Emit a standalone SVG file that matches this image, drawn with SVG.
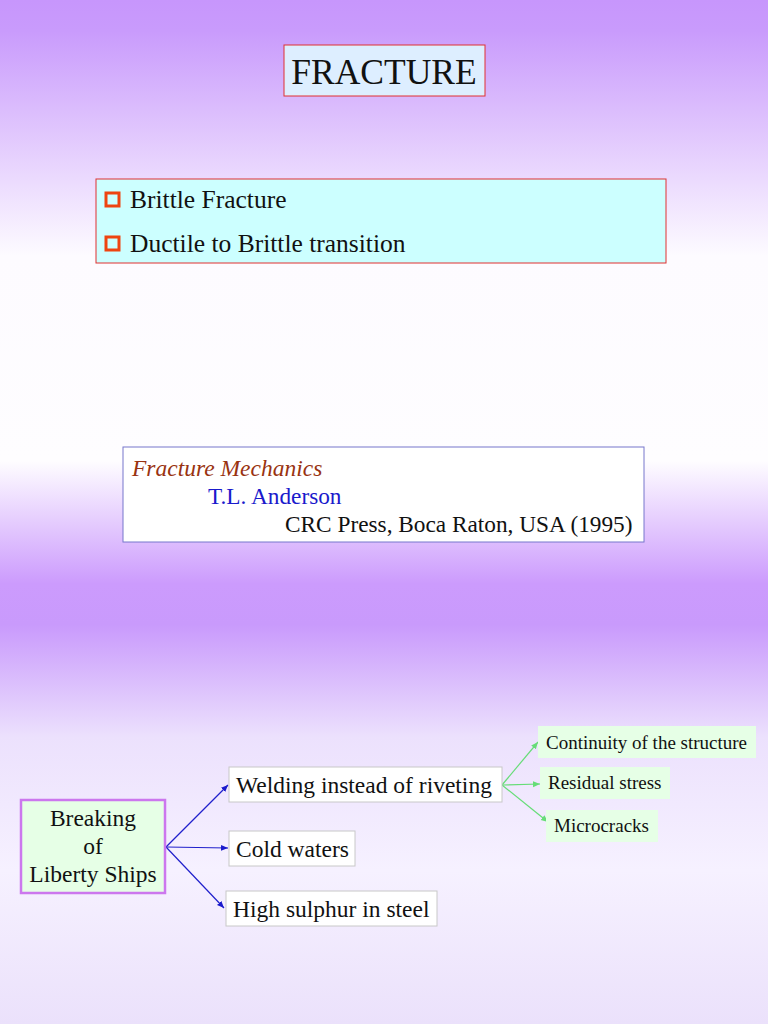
<svg xmlns="http://www.w3.org/2000/svg" width="768" height="1024" viewBox="0 0 768 1024">
<defs>
<linearGradient id="bg" x1="0" y1="0" x2="0" y2="1">
<stop offset="0" stop-color="#c796fc"/>
<stop offset="0.03" stop-color="#c99bfc"/>
<stop offset="0.25" stop-color="#fdfbff"/>
<stop offset="0.45" stop-color="#fefdff"/>
<stop offset="0.57" stop-color="#cc9bfd"/>
<stop offset="0.61" stop-color="#c99afc"/>
<stop offset="0.72" stop-color="#ece1fd"/>
<stop offset="0.85" stop-color="#f6f1ff"/>
<stop offset="1" stop-color="#ebe1fb"/>
</linearGradient>
<marker id="ab" markerWidth="8" markerHeight="8" refX="7" refY="4" orient="auto" markerUnits="userSpaceOnUse"><path d="M0,1 L7,4 L0,7 z" fill="#1a1acc"/></marker>
<marker id="ag" markerWidth="8" markerHeight="8" refX="7" refY="4" orient="auto" markerUnits="userSpaceOnUse"><path d="M0,1 L7,4 L0,7 z" fill="#66dd77"/></marker>
</defs>
<style>
text{font-family:"Liberation Serif",serif;fill:#111}
.wb{fill:#fff;stroke:#c8c8c8;stroke-width:1}
.gb{fill:#e6ffe6}
.bl{fill:none;stroke:#2020cc;stroke-width:1.2}
.gl{fill:none;stroke:#66dd77;stroke-width:1.2}
.sq{fill:none;stroke:#ee4411;stroke-width:3}
</style>
<rect width="768" height="1024" fill="url(#bg)"/>
<g id="title"><rect x="284" y="45" width="201" height="51" fill="#ddeeff" stroke="#e03030"/><text x="384" y="84" font-size="35.5" text-anchor="middle">FRACTURE</text></g>
<g id="bullets"><rect x="96" y="179" width="570" height="84" fill="#ccffff" stroke="#e03030"/>
<rect x="106" y="193" width="13" height="13" class="sq"/><text x="130" y="208" font-size="25.5">Brittle Fracture</text>
<rect x="106" y="237" width="13" height="13" class="sq"/><text x="130" y="252" font-size="25.5">Ductile to Brittle transition</text></g>
<g id="book"><rect x="123" y="447" width="521" height="95" fill="#fff" stroke="#7777cc"/>
<text x="132" y="476" font-size="23.5" font-style="italic" style="fill:#993311">Fracture Mechanics</text>
<text x="208" y="504" font-size="23.3" style="fill:#1a1acc">T.L. Anderson</text>
<text x="285" y="532" font-size="23.3">CRC Press, Boca Raton, USA (1995)</text></g>
<g id="connectors">
<path class="bl" d="M166,847 L228,785" marker-end="url(#ab)"/>
<path class="bl" d="M166,847 L228,848" marker-end="url(#ab)"/>
<path class="bl" d="M166,847 L224,908" marker-end="url(#ab)"/>
<path class="gl" d="M502,785 L538,742" marker-end="url(#ag)"/>
<path class="gl" d="M502,785 L540,784" marker-end="url(#ag)"/>
<path class="gl" d="M502,785 L548,822" marker-end="url(#ag)"/>
</g>
<g id="ships"><rect x="21" y="800" width="144" height="93" fill="#e6ffe6" stroke="#cc77ee" stroke-width="2.5"/>
<text x="93" y="826" font-size="23.5" text-anchor="middle">Breaking</text><text x="93" y="854" font-size="23.5" text-anchor="middle">of</text><text x="93" y="882" font-size="23.5" text-anchor="middle">Liberty Ships</text></g>
<g id="welding"><rect x="229" y="767" width="273" height="35" class="wb"/><text x="236" y="793" font-size="23.5">Welding instead of riveting</text></g>
<g id="cold"><rect x="229" y="831" width="126" height="35" class="wb"/><text x="236" y="857" font-size="23.5">Cold waters</text></g>
<g id="sulphur"><rect x="226" y="891" width="211" height="35" class="wb"/><text x="233" y="917" font-size="23.5">High sulphur in steel</text></g>
<g id="continuity"><rect x="538" y="726" width="218" height="32" class="gb"/><text x="546" y="749" font-size="19">Continuity of the structure</text></g>
<g id="residual"><rect x="540" y="767" width="130" height="32" class="gb"/><text x="548" y="789" font-size="19">Residual stress</text></g>
<g id="micro"><rect x="546" y="810" width="112" height="32" class="gb"/><text x="554" y="832" font-size="19">Microcracks</text></g>
</svg>
